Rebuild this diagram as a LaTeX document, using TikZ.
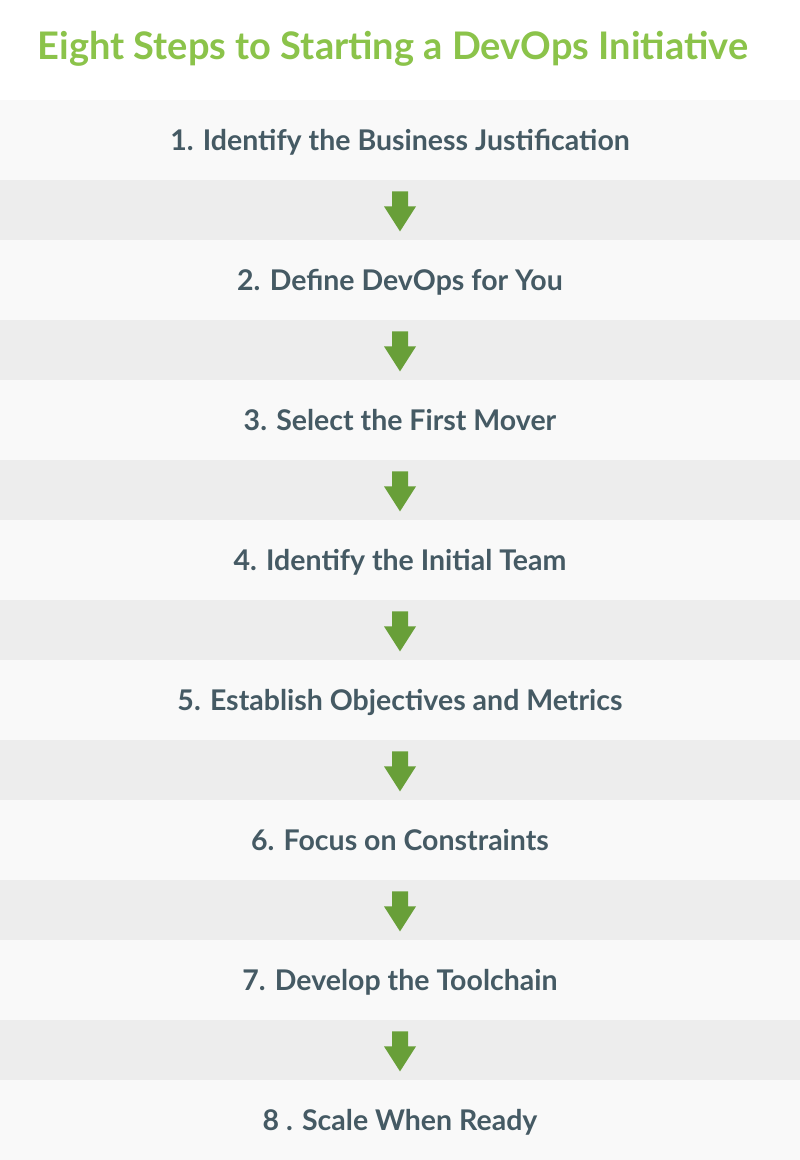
\documentclass[tikz,border=0pt]{standalone}
\usepackage{fontspec}
\setmainfont{Lato}
\usetikzlibrary{calc}
\definecolor{titlegreen}{HTML}{8BC34A}
\definecolor{arrowgreen}{HTML}{689F38}
\definecolor{steptext}{HTML}{455A64}
\definecolor{stepfill}{HTML}{F9F9F9}
\definecolor{gapfill}{HTML}{EDEDED}
\tikzset{
  stepbox/.style={rectangle, fill=stepfill, minimum width=800pt, minimum height=80pt, inner sep=0pt,
    text height=20.5pt, text depth=0pt,
    text=steptext, font=\fontsize{28.5}{32}\selectfont\bfseries, anchor=north},
  titletext/.style={text=titlegreen, text height=27pt, text depth=0pt,
    font=\fontsize{38}{42}\selectfont\bfseries},
  gapband/.style={fill=gapfill},
  downarrow/.style={fill=arrowgreen}
}
\newcommand{\stepgap}[2]{%
  \fill[gapband] (#1.south west) rectangle (#2.north east);
  \fill[downarrow] ($(#1.south)+(-8,-11)$) -- ($(#1.south)+(8,-11)$) -- ($(#1.south)+(8,-26)$)
    -- ($(#1.south)+(16,-26)$) -- ($(#1.south)+(0,-51)$) -- ($(#1.south)+(-16,-26)$)
    -- ($(#1.south)+(-8,-26)$) -- cycle;
}
\begin{document}
\begin{tikzpicture}[x=1pt,y=1pt]
\useasboundingbox[fill=white] (0,0) rectangle (800,-1160);
\node[titletext] (title) at (393,-46) {Eight Steps to Starting a DevOps Initiative};
\node[stepbox] (s1) at (400,-100) {1. Identify the Business Justification};
\node[stepbox] (s2) at (400,-240) {2. Define DevOps for You};
\node[stepbox] (s3) at (400,-380) {3. Select the First Mover};
\node[stepbox] (s4) at (400,-520) {4. Identify the Initial Team};
\node[stepbox] (s5) at (400,-660) {5. Establish Objectives and Metrics};
\node[stepbox] (s6) at (400,-800) {6. Focus on Constraints};
\node[stepbox] (s7) at (400,-940) {7. Develop the Toolchain};
\node[stepbox] (s8) at (400,-1080) {8 . Scale When Ready};
\stepgap{s1}{s2}
\stepgap{s2}{s3}
\stepgap{s3}{s4}
\stepgap{s4}{s5}
\stepgap{s5}{s6}
\stepgap{s6}{s7}
\stepgap{s7}{s8}
\end{tikzpicture}
\end{document}
